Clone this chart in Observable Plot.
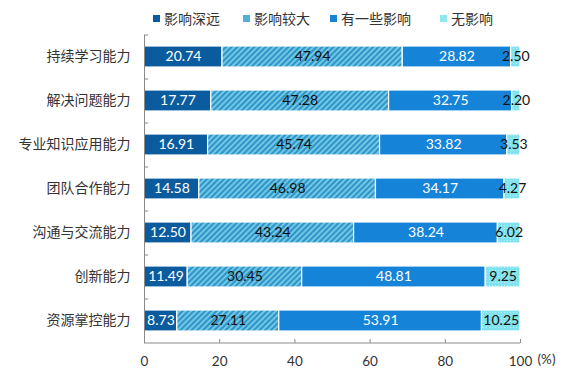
<!DOCTYPE html>
<html>
<head>
<meta charset="utf-8">
<script src="https://cdn.jsdelivr.net/npm/d3@7"></script>
<script src="https://cdn.jsdelivr.net/npm/@observablehq/plot@0.6"></script>
<style>
  html, body { margin: 0; padding: 0; background: #fff; }
  #chart { position: relative; width: 562px; height: 375px; }
  #legend { position: absolute; top: 8px; left: 0; width: 562px; height: 20px; font: 14px "Noto Sans CJK SC", sans-serif; color: #333; }
  #legend .item { position: absolute; top: 0; display: flex; align-items: center; white-space: nowrap; }
  #legend .sw { width: 7px; height: 7px; margin-right: 4px; }
</style>
</head>
<body>
<div id="chart">
  <div id="legend"></div>
</div>
<script>
// Abilities, top to bottom
const categories = ["持续学习能力", "解决问题能力", "专业知识应用能力", "团队合作能力", "沟通与交流能力", "创新能力", "资源掌控能力"];
// Degree of influence
const series = ["影响深远", "影响较大", "有一些影响", "无影响"];
// Shares (%) per ability, one array per degree
const deep   = [20.74, 17.77, 16.91, 14.58, 12.50, 11.49, 8.73];
const large  = [47.94, 47.28, 45.74, 46.98, 43.24, 30.45, 27.11];
const some   = [28.82, 32.75, 33.82, 34.17, 38.24, 48.81, 53.91];
const none   = [2.50, 2.20, 3.53, 4.27, 6.02, 9.25, 10.25];
const xTicks = [0, 20, 40, 60, 80, 100];

const fills = ["#0b5c9e", "url(#hatch)", "#1584d8", "url(#dots)"];
const labelColors = ["#ffffff", "#111111", "#ffffff", "#111111"];
const swatches = ["#0b5c9e", "#4fb0da", "#1584d8", "#8fe6ee"];
const legendLeft = [153, 243, 330, 440];

const columns = [deep, large, some, none];
const rows = [];
categories.forEach((c, i) => {
  series.forEach((s, j) => rows.push({cat: c, series: s, k: j, value: columns[j][i]}));
});

const stack = opts => Plot.stackX({x: "value", y: "cat", z: "series", order: null, ...opts});

const plot = Plot.plot({
  width: 562,
  height: 375,
  marginTop: 35,
  marginBottom: 32,
  marginLeft: 144,
  marginRight: 42,
  style: {fontFamily: "Lato, sans-serif", background: "transparent"},
  x: {domain: [0, 100], label: null},
  y: {domain: categories, paddingInner: 0.52, paddingOuter: 0.26, label: null},
  color: {type: "identity"},
  marks: [
    Plot.barX(rows, stack({fill: d => fills[d.k], stroke: "#fff", strokeWidth: 1.2})),
    Plot.text(rows, stack({text: d => d.value.toFixed(2), fill: d => labelColors[d.k], fontSize: 14})),
    // y axis line and separators between categories
    Plot.ruleX([0], {stroke: "#8a8a8a"}),
    Plot.ruleY(categories, {y: d => d, x1: 0, x2: 1.1, dy: -22, stroke: "#8a8a8a"}),
    Plot.ruleY(categories.slice(-1), {y: d => d, x1: 0, x2: 100, dy: 22, stroke: "#8a8a8a"}),
    Plot.axisY({tickSize: 0, tickPadding: 14, fontSize: 14, fontFamily: "Noto Sans CJK SC", color: "#333"}),
    Plot.axisX({ticks: xTicks, tickSize: 4, dy: -4, tickPadding: 13, fontSize: 13.5, color: "#333", stroke: "#8a8a8a"}),
    Plot.text(["(%)"], {x: 100, frameAnchor: "bottom", dy: 20, dx: 26, text: d => d, fontSize: 13.5, fill: "#333"})
  ]
});

// fill patterns for the hatched and dotted segments
const defs = d3.select(plot).insert("defs", ":first-child");
const hatch = defs.append("pattern").attr("id", "hatch").attr("patternUnits", "userSpaceOnUse")
  .attr("width", 4).attr("height", 4).attr("patternTransform", "rotate(45)");
hatch.append("rect").attr("width", 4).attr("height", 4).attr("fill", "#72c6e6");
hatch.append("rect").attr("width", 2).attr("height", 4).attr("fill", "#2f95c6");
const dots = defs.append("pattern").attr("id", "dots").attr("patternUnits", "userSpaceOnUse")
  .attr("width", 3).attr("height", 3);
dots.append("rect").attr("width", 3).attr("height", 3).attr("fill", "#80e2ec");
dots.append("rect").attr("width", 1).attr("height", 1).attr("fill", "#b5f0f4");

document.getElementById("chart").appendChild(plot);

const legend = d3.select("#legend");
series.forEach((s, i) => {
  const item = legend.append("div").attr("class", "item").style("left", legendLeft[i] + "px");
  item.append("div").attr("class", "sw").style("background", swatches[i]);
  item.append("span").text(s);
});
</script>
</body>
</html>
